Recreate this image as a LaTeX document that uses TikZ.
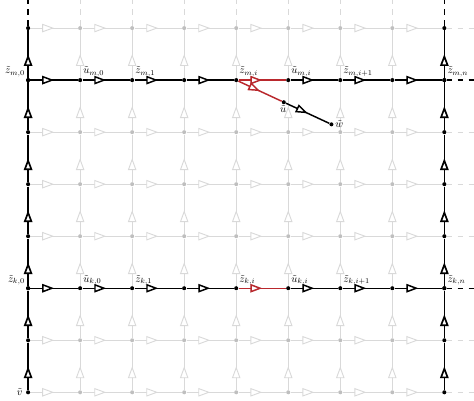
\documentclass[tikz,border=0pt]{standalone}
\usetikzlibrary{arrows.meta,decorations.markings,positioning}
\definecolor{edgered}{RGB}{185,40,45}
\tikzset{
    dot/.style={circle,fill,inner sep=0mm,minimum size=2.2pt},
    faint/.style={black!15,line width=0.5pt},
    bold/.style={black,line width=0.8pt},
    lbl/.style={scale=0.58,inner sep=1.2pt},
    midtip/.style={
        postaction={decorate,decoration={markings,
            mark=at position 0.5 with {\arrow{Triangle[length=6.5pt,width=4.6pt,fill=white]}}}}
    }
}

\begin{document}
\begin{tikzpicture}
    \useasboundingbox (-0.54,-0.15) rectangle (8.57,7.54);
    % grid points and free ends
    \foreach \c in {0,...,8}
        \foreach \r in {0,...,7}
            \node[dot,black!25] (g-\c-\r) at (\c,\r) {};
    \foreach \c in {0,...,8}
        \coordinate (t-\c) at (\c,7.54);
    \foreach \r in {0,...,7}
        \coordinate (e-\r) at (8.57,\r);
    % faint grid
    \foreach \c [count=\d] in {0,...,7}
        \foreach \r in {0,...,7}
            \draw[faint,midtip] (g-\c-\r) -- (g-\d-\r);
    \foreach \c in {0,...,8} {
        \foreach \r [count=\s] in {0,...,6}
            \draw[faint,midtip] (g-\c-\r) -- (g-\c-\s);
        \draw[faint,dashed] (g-\c-7) -- (t-\c);
    }
    \foreach \r in {0,...,7}
        \draw[faint,dashed] (g-8-\r) -- (e-\r);
    % bold columns
    \foreach \c in {0,8} {
        \foreach \r [count=\s] in {0,...,6}
            \draw[bold,line width=0.9pt,midtip] (g-\c-\r) -- (g-\c-\s);
        \draw[bold,dashed] (g-\c-7) -- (t-\c);
    }
    % bold rows
    \foreach \r in {2,6} {
        \foreach \c [count=\d] in {0,...,7} {
            \ifnum\c=4
                \draw[bold,edgered,midtip] (g-\c-\r) -- (g-\d-\r);
            \else
                \draw[bold,midtip] (g-\c-\r) -- (g-\d-\r);
            \fi
        }
        \draw[bold,dashed] (g-8-\r) -- (e-\r);
    }
    \foreach \c in {0,...,8} {
        \node[dot] at (g-\c-2) {};
        \node[dot] at (g-\c-6) {};
    }
    \foreach \r in {0,...,7} {
        \node[dot] at (g-0-\r) {};
        \node[dot] at (g-8-\r) {};
    }
    % slanted edge
    \node[dot] (w) at (5.83,5.15) {};
    \node[dot] (u) at (4.915,5.575) {};
    \draw[bold,edgered,midtip] (g-4-6) -- (u);
    \draw[bold,midtip] (u) -- (w);
    \node[lbl,below left=0pt and -3pt of u] (lu) {$\tilde u$};
    \node[lbl,right=0pt of w] (lw) {$\tilde w$};
    % labels
    \foreach \rw/\r in {m/6,k/2} {
        \node[lbl,above left=0pt of g-0-\r] (l-\rw-0) {$\tilde z_{\rw,0}$};
        \node[lbl,above right=0pt of g-1-\r] (l-\rw-1) {$\tilde u_{\rw,0}$};
        \node[lbl,above right=0pt of g-2-\r] (l-\rw-2) {$\tilde z_{\rw,1}$};
        \node[lbl,above right=0pt of g-4-\r] (l-\rw-4) {$\tilde z_{\rw,i}$};
        \node[lbl,above right=0pt of g-5-\r] (l-\rw-5) {$\tilde u_{\rw,i}$};
        \node[lbl,above right=0pt of g-6-\r] (l-\rw-6) {$\tilde z_{\rw,i+1}$};
        \node[lbl,above right=0pt of g-8-\r] (l-\rw-8) {$\tilde z_{\rw,n}$};
    }
    \node[lbl,left=1pt of g-0-0] (lv) {$\tilde v$};
\end{tikzpicture}
\end{document}
